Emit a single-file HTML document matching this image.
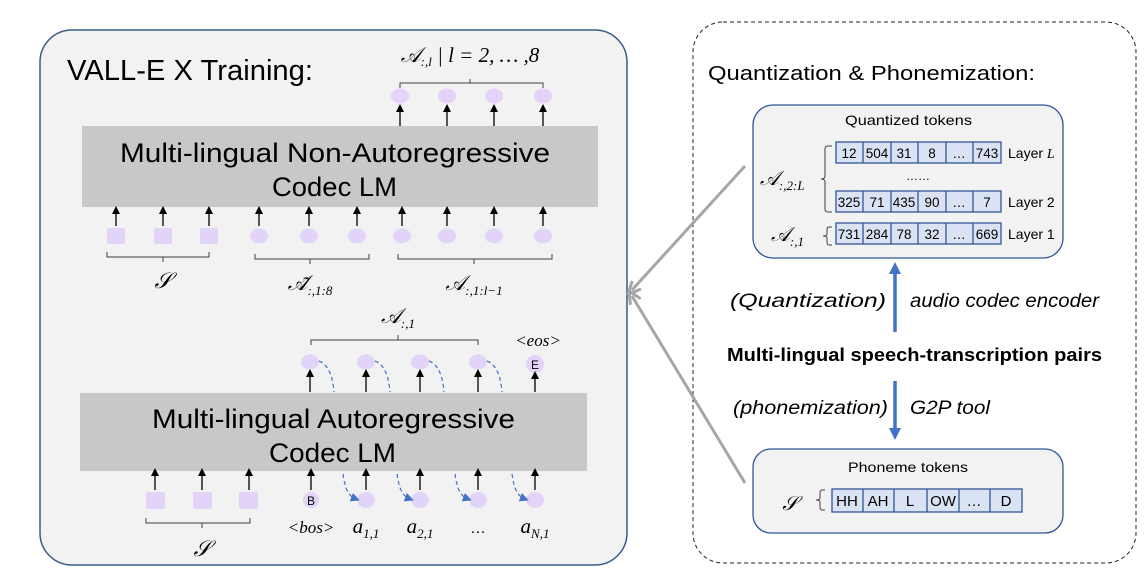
<!DOCTYPE html>
<html><head><meta charset="utf-8"><style>
body{margin:0;background:#fff}
svg{display:block}
text{font-family:"Liberation Sans",sans-serif}
.s{font-family:"Liberation Serif",serif;font-style:italic}
</style></head><body>
<svg width="1147" height="586" viewBox="0 0 1147 586" xmlns="http://www.w3.org/2000/svg">
<defs>
<marker id="ak" markerWidth="8" markerHeight="8" refX="4" refY="4" orient="auto" markerUnits="userSpaceOnUse"><path d="M0,0 L8,4 L0,8 z" fill="#000"/></marker>
<marker id="ab" markerWidth="9" markerHeight="9" refX="5" refY="4.5" orient="auto" markerUnits="userSpaceOnUse"><path d="M0,0 L9,4.5 L0,9 z" fill="#4472c4"/></marker>
<marker id="ag" markerWidth="14" markerHeight="14" refX="7" refY="7" orient="auto" markerUnits="userSpaceOnUse"><path d="M0,1 L13,7 L0,13" fill="none" stroke="#a6a6a6" stroke-width="3"/></marker>
</defs>
<rect x="40" y="30" width="587" height="535" rx="32" fill="#f2f2f2" stroke="#3a5a8a" stroke-width="1.5"/>
<text x="67" y="80" font-size="29" textLength="246" lengthAdjust="spacingAndGlyphs">VALL-E X Training:</text>
<rect x="82" y="126" width="516" height="81" fill="#c8c8c8"/>
<text x="120" y="162" font-size="27" textLength="430" lengthAdjust="spacingAndGlyphs">Multi-lingual Non-Autoregressive</text>
<text x="272" y="196" font-size="27" textLength="125" lengthAdjust="spacingAndGlyphs">Codec LM</text>
<text class="s" x="470" y="62" font-size="21" text-anchor="middle">𝒜<tspan font-size="13" dy="4">:,l</tspan><tspan dy="-4"> | l = 2, … ,8</tspan></text>
<path d="M400,88 v-5 h70 v-4 M470,83 h73 v5" fill="none" stroke="#404040"/>
<g fill="#e2d4f9">
<ellipse cx="400" cy="96" rx="9" ry="7.5"/><ellipse cx="447" cy="96" rx="9" ry="7.5"/><ellipse cx="494" cy="96" rx="9" ry="7.5"/><ellipse cx="543" cy="96" rx="9" ry="7.5"/>
<rect x="107" y="228" width="18" height="16" rx="2"/><rect x="154" y="228" width="18" height="16" rx="2"/><rect x="200" y="228" width="18" height="16" rx="2"/>
<ellipse cx="259" cy="236" rx="9" ry="7.5"/><ellipse cx="309" cy="236" rx="9" ry="7.5"/><ellipse cx="357" cy="236" rx="9" ry="7.5"/>
<ellipse cx="402" cy="236" rx="9" ry="7.5"/><ellipse cx="447" cy="236" rx="9" ry="7.5"/><ellipse cx="494" cy="236" rx="9" ry="7.5"/><ellipse cx="543" cy="236" rx="9" ry="7.5"/>
</g>
<g stroke="#000" stroke-width="1.3" marker-end="url(#ak)">
<line x1="400" y1="126" x2="400" y2="108"/><line x1="447" y1="126" x2="447" y2="108"/><line x1="494" y1="126" x2="494" y2="108"/><line x1="543" y1="126" x2="543" y2="108"/>
<line x1="116" y1="226" x2="116" y2="210"/><line x1="163" y1="226" x2="163" y2="210"/><line x1="209" y1="226" x2="209" y2="210"/>
<line x1="259" y1="226" x2="259" y2="210"/><line x1="309" y1="226" x2="309" y2="210"/><line x1="357" y1="226" x2="357" y2="210"/>
<line x1="402" y1="226" x2="402" y2="210"/><line x1="447" y1="226" x2="447" y2="210"/><line x1="494" y1="226" x2="494" y2="210"/><line x1="543" y1="226" x2="543" y2="210"/>
</g>
<g fill="none" stroke="#404040">
<path d="M107,252 v5 h56 v5 M163,257 h46 v-5"/>
<path d="M255,254 v5 h55 v5 M310,259 h59 v-5"/>
<path d="M398,254 v5 h76 v5 M474,259 h78 v-5"/>
</g>
<text class="s" x="163" y="288" font-size="22" text-anchor="middle">𝒮</text>
<text class="s" x="310" y="290" font-size="21" text-anchor="middle">𝒜̃<tspan font-size="13" dy="5">:,1:8</tspan></text>
<text class="s" x="474" y="290" font-size="21" text-anchor="middle">𝒜<tspan font-size="13" dy="5">:,1:l−1</tspan></text>
<text class="s" x="398" y="323" font-size="21" text-anchor="middle">𝒜<tspan font-size="13" dy="5">:,1</tspan></text>
<path d="M311,345 v-5 h87 v-5 M398,340 h80 v5" fill="none" stroke="#404040"/>
<text class="s" x="538" y="346" font-size="17" text-anchor="middle">&lt;eos&gt;</text>
<rect x="80" y="393" width="507" height="78" fill="#c8c8c8"/>
<text x="152" y="428" font-size="27" textLength="363" lengthAdjust="spacingAndGlyphs">Multi-lingual Autoregressive</text>
<text x="269" y="462" font-size="27" textLength="127" lengthAdjust="spacingAndGlyphs">Codec LM</text>
<g fill="#e2d4f9">
<ellipse cx="310" cy="362" rx="9" ry="7.5"/><ellipse cx="366" cy="362" rx="9" ry="7.5"/><ellipse cx="420" cy="362" rx="9" ry="7.5"/><ellipse cx="478" cy="362" rx="9" ry="7.5"/><circle cx="535" cy="364" r="9"/>
<rect x="146" y="492" width="19" height="17" rx="2"/><rect x="193" y="492" width="19" height="17" rx="2"/><rect x="239" y="492" width="19" height="17" rx="2"/>
<circle cx="311" cy="500" r="8"/>
<ellipse cx="366" cy="500" rx="9" ry="8"/><ellipse cx="420" cy="500" rx="9" ry="8"/><ellipse cx="478" cy="500" rx="9" ry="8"/><ellipse cx="535" cy="500" rx="9" ry="8"/>
</g>
<text x="535" y="369" font-size="12" text-anchor="middle">E</text>
<text x="311" y="505" font-size="12" text-anchor="middle">B</text>
<g stroke="#000" stroke-width="1.3" marker-end="url(#ak)">
<line x1="310" y1="392" x2="310" y2="373"/><line x1="366" y1="392" x2="366" y2="373"/><line x1="420" y1="392" x2="420" y2="373"/><line x1="478" y1="392" x2="478" y2="373"/><line x1="535" y1="392" x2="535" y2="375"/>
<line x1="155" y1="490" x2="155" y2="472"/><line x1="202" y1="490" x2="202" y2="472"/><line x1="249" y1="490" x2="249" y2="472"/>
<line x1="311" y1="490" x2="311" y2="472"/><line x1="366" y1="490" x2="366" y2="472"/><line x1="420" y1="490" x2="420" y2="472"/><line x1="478" y1="490" x2="478" y2="472"/><line x1="535" y1="490" x2="535" y2="472"/>
</g>
<g fill="none" stroke="#4472c4" stroke-width="1.2" stroke-dasharray="4,3">
<path d="M319,361 C330,365 333,380 334,392"/><path d="M375,361 C386,365 389,380 390,392"/><path d="M429,361 C440,365 443,380 444,392"/><path d="M487,361 C498,365 501,380 502,392"/>
</g>
<g fill="none" stroke="#4472c4" stroke-width="1.2" stroke-dasharray="4,3" marker-end="url(#ab)">
<path d="M343,474 C345,488 348,496 356,499"/><path d="M397,474 C399,488 402,496 410,499"/><path d="M455,474 C457,488 460,496 468,499"/><path d="M512,474 C514,488 517,496 525,499"/>
</g>
<path d="M146,518 v5 h56 v5 M202,523 h48 v-5" fill="none" stroke="#404040"/>
<text class="s" x="202" y="556" font-size="22" text-anchor="middle">𝒮</text>
<text class="s" x="311" y="533" font-size="17" text-anchor="middle">&lt;bos&gt;</text>
<text class="s" x="366" y="533" font-size="21" text-anchor="middle">a<tspan font-size="13" dy="5">1,1</tspan></text>
<text class="s" x="420" y="533" font-size="21" text-anchor="middle">a<tspan font-size="13" dy="5">2,1</tspan></text>
<text x="478" y="533" font-size="16" text-anchor="middle">…</text>
<text class="s" x="535" y="533" font-size="21" text-anchor="middle">a<tspan font-size="13" dy="5">N,1</tspan></text>
<rect x="693" y="22" width="443" height="541" rx="30" fill="#fff" stroke="#222" stroke-dasharray="4,3"/>
<text x="708" y="80" font-size="20" textLength="327" lengthAdjust="spacingAndGlyphs">Quantization &amp; Phonemization:</text>
<rect x="753" y="105" width="310" height="153" rx="20" fill="#f2f2f2" stroke="#2f5597" stroke-width="1.3"/>
<text x="845" y="125" font-size="14" textLength="127" lengthAdjust="spacingAndGlyphs">Quantized tokens</text>
<g font-size="13.5" text-anchor="middle">
<g fill="#dae3f3" stroke="#2f5597" stroke-width="1.3">
<rect x="836" y="142" width="165" height="21"/><rect x="836" y="191" width="165" height="21"/><rect x="836" y="223" width="165" height="21"/>
</g>
<g stroke="#2f5597" stroke-width="1.3">
<path d="M863,142v21M891,142v21M918,142v21M946,142v21M973,142v21"/>
<path d="M863,191v21M891,191v21M918,191v21M946,191v21M973,191v21"/>
<path d="M863,223v21M891,223v21M918,223v21M946,223v21M973,223v21"/>
</g>
<text x="849" y="158">12</text><text x="877" y="158">504</text><text x="904" y="158">31</text><text x="932" y="158">8</text><text x="959" y="158">…</text><text x="987" y="158">743</text>
<text x="849" y="207">325</text><text x="877" y="207">71</text><text x="904" y="207">435</text><text x="932" y="207">90</text><text x="959" y="207">…</text><text x="987" y="207">7</text>
<text x="849" y="239">731</text><text x="877" y="239">284</text><text x="904" y="239">78</text><text x="932" y="239">32</text><text x="959" y="239">…</text><text x="987" y="239">669</text>
</g>
<text x="1008" y="158" font-size="14">Layer <tspan class="s">L</tspan></text>
<text x="1008" y="207" font-size="14">Layer 2</text>
<text x="1008" y="239" font-size="14">Layer 1</text>
<text x="918" y="180" font-size="12" text-anchor="middle">……</text>
<path d="M832,146 h-4 q-3,0 -3,3 v27 q0,3 -4,3 q4,0 4,3 v27 q0,3 3,3 h4" fill="none" stroke="#404040"/>
<path d="M832,227 h-3 q-2,0 -2,3 v4 q0,2 -4,2 q4,0 4,2 v4 q0,3 2,3 h3" fill="none" stroke="#404040"/>
<text class="s" x="760" y="185" font-size="20">𝒜<tspan font-size="13" dy="5">:,2:L</tspan></text>
<text class="s" x="771" y="241" font-size="20">𝒜<tspan font-size="13" dy="5">:,1</tspan></text>
<line x1="895" y1="332" x2="895" y2="272" stroke="#4472c4" stroke-width="3.5"/>
<path d="M889,274 L895,262 L901,274z" fill="#4472c4"/>
<line x1="895" y1="381" x2="895" y2="430" stroke="#4472c4" stroke-width="3.5"/>
<path d="M889,428 L895,440 L901,428z" fill="#4472c4"/>
<text x="730" y="307" font-size="19" font-style="italic" textLength="156" lengthAdjust="spacingAndGlyphs">(Quantization)</text>
<text x="910" y="307" font-size="19" font-style="italic" textLength="189" lengthAdjust="spacingAndGlyphs">audio codec encoder</text>
<text x="727" y="361" font-size="18" font-weight="bold" textLength="375" lengthAdjust="spacingAndGlyphs">Multi-lingual speech-transcription pairs</text>
<text x="733" y="414" font-size="19" font-style="italic" textLength="155" lengthAdjust="spacingAndGlyphs">(phonemization)</text>
<text x="910" y="414" font-size="19" font-style="italic" textLength="80" lengthAdjust="spacingAndGlyphs">G2P tool</text>
<rect x="753" y="449" width="310" height="84" rx="18" fill="#f2f2f2" stroke="#2f5597" stroke-width="1.3"/>
<text x="848" y="472" font-size="14" textLength="120" lengthAdjust="spacingAndGlyphs">Phoneme tokens</text>
<rect x="832" y="489" width="190" height="23" fill="#dae3f3" stroke="#2f5597" stroke-width="1.3"/>
<path d="M863,489v23M894,489v23M927,489v23M959,489v23M990,489v23" stroke="#2f5597" stroke-width="1.3"/>
<g font-size="15" text-anchor="middle">
<text x="847" y="506">HH</text><text x="878" y="506">AH</text><text x="910" y="506">L</text><text x="943" y="506">OW</text><text x="974" y="506">…</text><text x="1006" y="506">D</text>
</g>
<text class="s" x="790" y="510" font-size="20" text-anchor="middle">𝒮</text>
<path d="M825,490 h-3 q-2,0 -2,3 v5 q0,2 -4,2 q4,0 4,2 v5 q0,3 2,3 h3" fill="none" stroke="#404040"/>
<g stroke="#a6a6a6" stroke-width="3" fill="none">
<line x1="745" y1="166" x2="632" y2="290" marker-end="url(#ag)"/>
<line x1="745" y1="483" x2="632" y2="296" marker-end="url(#ag)"/>
</g>
</svg>
</body></html>
